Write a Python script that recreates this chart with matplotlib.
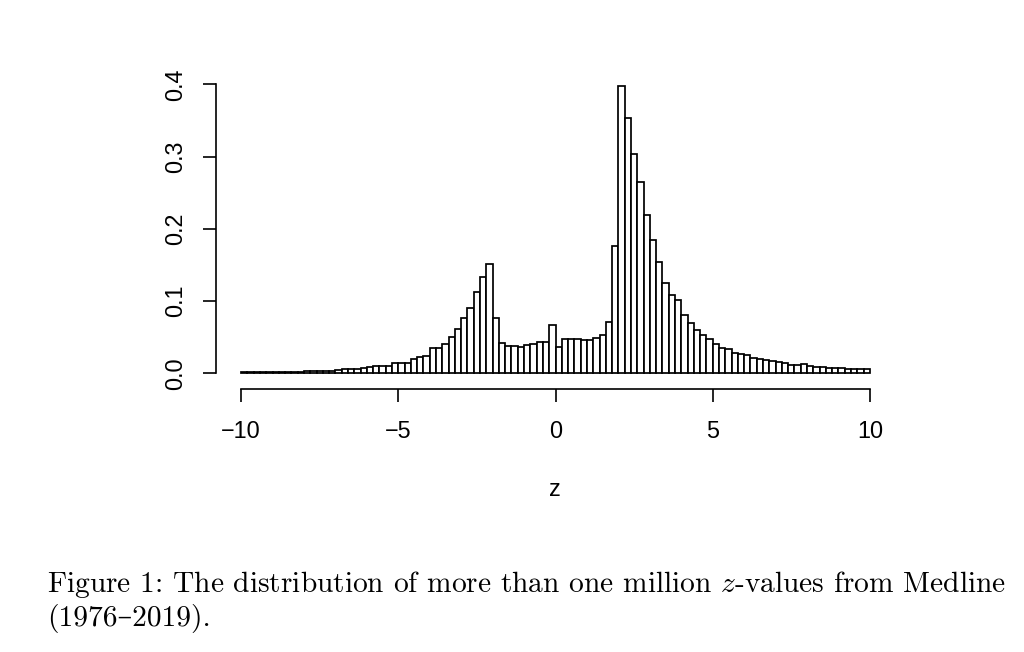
import numpy as np
import matplotlib
matplotlib.use("Agg")
import matplotlib.pyplot as plt

# Histogram densities, bins of width 0.2 from -10 to 10
bin_start = -10.0
bin_width = 0.2
densities = [
    0.0012, 0.0013, 0.0016, 0.0014, 0.0016, 0.0017, 0.0019, 0.0021, 0.0023, 0.0025,
    0.0027, 0.0029, 0.0031, 0.0036, 0.0038, 0.0046, 0.0062, 0.0058, 0.0064, 0.0074,
    0.0090, 0.0096, 0.0097, 0.0099, 0.0140, 0.0142, 0.0148, 0.0196, 0.0220, 0.0236,
    0.0350, 0.0352, 0.0410, 0.0500, 0.0610, 0.0770, 0.0900, 0.1130, 0.1335, 0.1520,
    0.0764, 0.0425, 0.0383, 0.0374, 0.0368, 0.0397, 0.0410, 0.0432, 0.0438, 0.0675,
    0.0368, 0.0470, 0.0478, 0.0475, 0.0467, 0.0467, 0.0495, 0.0530, 0.0715, 0.1760,
    0.3970, 0.3530, 0.3030, 0.2650, 0.2190, 0.1840, 0.1545, 0.1255, 0.1080, 0.1010,
    0.0805, 0.0690, 0.0597, 0.0527, 0.0471, 0.0411, 0.0355, 0.0332, 0.0286, 0.0272,
    0.0258, 0.0216, 0.0193, 0.0188, 0.0170, 0.0151, 0.0137, 0.0118, 0.0118, 0.0128,
    0.0105, 0.0086, 0.0082, 0.0077, 0.0072, 0.0070, 0.0066, 0.0063, 0.0060, 0.0057,
]
x_ticks = [-10, -5, 0, 5, 10]
x_tick_labels = ["\u221210", "\u22125", "0", "5", "10"]
y_ticks = [0.0, 0.1, 0.2, 0.3, 0.4]
y_tick_labels = ["0.0", "0.1", "0.2", "0.3", "0.4"]
x_label = "z"
caption_line1 = "Figure 1: The distribution of more than one million $z$-values from Medline"
caption_line2 = "(1976\u20132019)."

plt.rcParams["mathtext.fontset"] = "cm"

W, H = 1024, 652
fig = plt.figure(figsize=(W / 100, H / 100), dpi=100)
ax = fig.add_axes([216 / W, (H - 389) / H, (895 - 216) / W, (389 - 75) / H])

edges = bin_start + bin_width * np.arange(len(densities) + 1)
ax.bar(edges[:-1], densities, width=bin_width, align="edge",
       facecolor="white", edgecolor="black", linewidth=1.25)

ax.set_xlim(-10.8, 10.8)
ax.set_ylim(-0.0217, 0.4129)

for s in ["top", "right"]:
    ax.spines[s].set_visible(False)
ax.spines["left"].set_bounds(0, 0.4)
ax.spines["bottom"].set_bounds(-10, 10)
for s in ["left", "bottom"]:
    ax.spines[s].set_linewidth(1.2)

sans = ["Liberation Sans", "DejaVu Sans"]
ax.set_xticks(x_ticks)
ax.set_xticklabels(x_tick_labels, fontsize=16.8, family=sans)
ax.set_yticks(y_ticks)
ax.set_yticklabels(y_tick_labels, fontsize=16.8, family=sans, rotation=90, va="center")
ax.tick_params(axis="both", length=9.5, width=1.2, direction="out")
ax.tick_params(axis="x", pad=13)
ax.tick_params(axis="y", pad=11.5)

fig.text(555 / W, 1 - 490 / H, x_label, fontsize=16.8, family=sans,
         ha="center", va="center")

serif = ["cmr10", "DejaVu Serif"]
fig.text(47 / W, 1 - 592 / H, caption_line1, fontsize=21.2, family=serif,
         ha="left", va="baseline")
fig.text(47 / W, 1 - 626 / H, caption_line2, fontsize=21.2, family=serif,
         ha="left", va="baseline")

fig.savefig("out.png", dpi=100, facecolor="white")
